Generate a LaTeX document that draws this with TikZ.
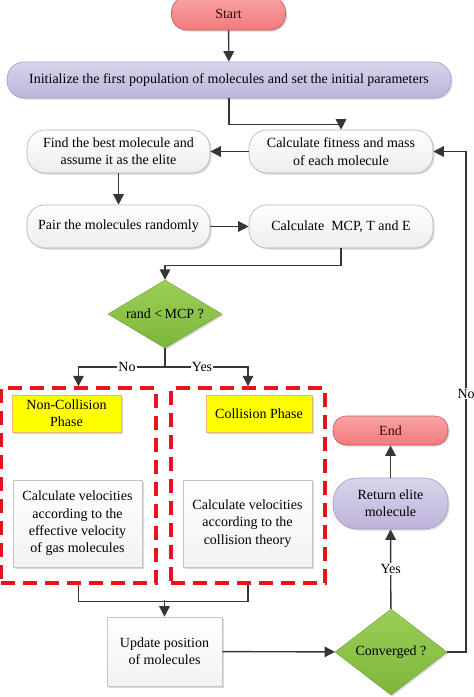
\documentclass[tikz,border=0pt]{standalone}
\usepackage{fontspec}
\setmainfont{Liberation Serif}
\usetikzlibrary{shapes.geometric,arrows.meta,shadows}
\definecolor{lnc}{HTML}{363636}
\definecolor{pinkT}{HTML}{F9A3A5}
\definecolor{pinkB}{HTML}{F27A7D}
\definecolor{pinkD}{HTML}{C8585B}
\definecolor{lavT}{HTML}{DAD4EC}
\definecolor{lavB}{HTML}{BDB3DA}
\definecolor{lavD}{HTML}{A69CC6}
\definecolor{grnT}{HTML}{9BCF57}
\definecolor{grnB}{HTML}{7DB63B}
\definecolor{ylw}{HTML}{FFFF00}
\definecolor{ylwD}{HTML}{E8B86A}
\definecolor{redD}{HTML}{E8141B}
\definecolor{txtR}{HTML}{3A0A0A}
\begin{document}
\begin{tikzpicture}[x=1pt,y=-1pt,
  every node/.style={font=\fontsize{14}{17.3}\selectfont, align=center, inner sep=0pt},
  shad/.style={drop shadow={shadow xshift=1.5pt, shadow yshift=-1.5pt, opacity=0.3, fill=gray}},
  pill/.style={shad, draw=gray!60, line width=0.6pt, top color=white, bottom color=gray!14, rounded corners=18pt},
  lavpill/.style={shad, draw=lavD, line width=0.6pt, top color=lavT, bottom color=lavB},
  pinkpill/.style={shad, draw=pinkD, line width=0.6pt, top color=pinkT, bottom color=pinkB, text=txtR},
  dia/.style={diamond, shad, draw=grnB!80!black, line width=0.3pt, top color=grnT, bottom color=grnB},
  rbox/.style={shad, draw=gray!45, line width=0.6pt, top color=white, bottom color=gray!10},
  ybox/.style={shad, draw=ylwD, line width=0.6pt, fill=ylw},
  phasebox/.style={draw=redD, line width=3.5pt, dash pattern=on 14pt off 8pt},
  arr/.style={draw=lnc, line width=1.4pt, -{Triangle[length=10.5pt,width=10.5pt]}},
  ln/.style={draw=lnc, line width=1.4pt},
  lab/.style={fill=white, inner sep=1pt}
]
\useasboundingbox (0,0) rectangle (474,697);

% nodes
\node[pinkpill, rounded corners=15pt, minimum width=114pt, minimum height=33pt] (start) at (228.5,13.5) {Start};
\node[lavpill, rounded corners=17pt, minimum width=444pt, minimum height=36pt] (init) at (229,80) {Initialize the first population of molecules and set the initial parameters};
\node[pill, minimum width=184pt, minimum height=43pt] (fit) at (341,151.5) {Calculate fitness and mass\\of each molecule};
\node[pill, minimum width=183pt, minimum height=43pt] (best) at (118.5,151.5) {Find the best molecule and\\assume it as the elite};
\node[pill, minimum width=183pt, minimum height=43pt] (pair) at (118.5,226.5) {Pair the molecules randomly};
\node[pill, minimum width=184pt, minimum height=43pt] (mcp) at (341,226.5) {Calculate~ MCP, T and E};
\node[dia, minimum width=114pt, minimum height=68pt] (d1) at (165,314) {};
\node at (d1) {rand <\,MCP ?};

\node[phasebox, minimum width=155pt, minimum height=195pt] (pl) at (78.5,485.5) {};
\node[phasebox, minimum width=154pt, minimum height=195pt] (pr) at (248,485.5) {};
\node[ybox, minimum width=109pt, minimum height=37pt] (ncp) at (66.5,413.5) {Non-Collision\\Phase};
\node[ybox, minimum width=106pt, minimum height=37pt] (cp) at (259,413.5) {Collision Phase};
\node[rbox, minimum width=129pt, minimum height=87pt] (cvl) at (77.5,523.5) {Calculate velocities\\according to the\\effective velocity\\of gas molecules};
\node[rbox, minimum width=129pt, minimum height=87pt] (cvr) at (247.5,523.5) {Calculate velocities\\according to the\\collision theory};

\node[rbox, minimum width=115pt, minimum height=69pt] (upd) at (164.5,651.5) {Update position\\of molecules};
\node[dia, minimum width=112pt, minimum height=86pt] (conv) at (391,652) {};
\node at (conv) {Converged ?};
\node[lavpill, rounded corners=24pt, minimum width=115pt, minimum height=51pt] (ret) at (390.5,503.5) {Return elite\\molecule};
\node[pinkpill, rounded corners=13pt, minimum width=115pt, minimum height=29pt] (end) at (390.5,430.5) {End};

% connectors
\draw[arr] (start) -- (init);
\draw[arr] (init.south) -- ++(0,26) -| (fit.north);
\draw[arr] (fit) -- (best);
\draw[arr] (best) -- (pair);
\draw[arr] (pair) -- (mcp);
\draw[arr] (mcp.south) -- ++(0,17) -| (d1.north);
\draw[ln] (d1.south) -- ++(0,19) coordinate (j1);
\draw[arr] (j1) -| (pl.north);
\draw[arr] (j1) -| (pr.north);
\node[lab] at (127,367) {No};
\node[lab] at (202,367) {Yes};
\draw[ln] (pl.south) -- ++(0,17) coordinate (bl) -| (pr.south);
\coordinate (j2) at (164.5,600);
\draw[arr] (j2) -- (upd);
\draw[arr] (upd) -- (conv);
\draw[arr] (conv) -- node[lab]{Yes} (ret);
\draw[arr] (ret) -- (end);
\draw[arr] (conv.east) -- ++(19,0) |- node[lab, pos=0.258]{No} (fit.east);
\end{tikzpicture}
\end{document}
